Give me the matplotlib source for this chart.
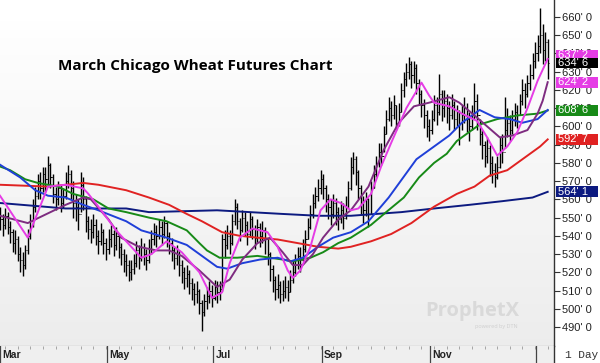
import numpy as np
import matplotlib
matplotlib.use('Agg')
import matplotlib.pyplot as plt
from matplotlib.patches import Rectangle
from matplotlib.transforms import blended_transform_factory
from matplotlib.ticker import FixedLocator, FuncFormatter

# ----- daily bars (cents/bu) ---------------------------------------------------------
highs = [556, 552, 555, 553, 548, 544, 543, 540, 534, 531,
         535, 544, 552, 560, 567, 574, 575, 578, 578, 584,
         580, 574, 567, 570, 568, 566, 575, 579, 576, 570,
         563, 560, 575, 572, 562, 551, 549, 552, 549, 543,
         547, 544, 539, 544, 546, 543, 545, 541, 536, 533,
         530, 527, 527, 530, 537, 535, 539, 536, 533, 538,
         543, 547, 546, 549, 548, 551, 548, 542, 539, 534,
         535, 532, 527, 523, 524, 521, 517, 514, 515, 511,
         505, 508, 512, 515, 513, 516, 515, 515, 541, 543,
         546, 543, 552, 560, 558, 550, 554, 553, 548, 553,
         551, 546, 549, 547, 548, 545, 538, 531, 524, 518,
         519, 515, 516, 518, 516, 521, 526, 530, 534, 534,
         538, 543, 550, 557, 563, 567, 571, 576, 574, 568,
         563, 560, 563, 561, 556, 559, 558, 562, 570, 583,
         586, 584, 576, 568, 562, 564, 561, 570, 579, 584,
         591, 591, 600, 609, 616, 614, 617, 612, 613, 624,
         630, 635, 638, 636, 636, 634, 626, 620, 615, 609,
         604, 609, 617, 616, 629, 620, 620, 618, 614, 618,
         614, 612, 609, 612, 616, 613, 608, 612, 624, 618,
         604, 598, 592, 594, 590, 584, 580, 584, 594, 596,
         616, 610, 606, 609, 613, 612, 618, 626, 624, 628,
         634, 640, 646, 650, 665, 656, 652, 648]
lows = [543, 540, 544, 541, 536, 531, 530, 526, 520, 518,
        522, 530, 538, 545, 553, 560, 560, 564, 564, 568,
        566, 558, 554, 557, 553, 555, 560, 566, 560, 550,
        548, 543, 553, 554, 542, 538, 536, 539, 535, 530,
        535, 530, 527, 530, 534, 529, 532, 528, 524, 520,
        518, 515, 516, 519, 523, 522, 526, 524, 521, 525,
        530, 535, 534, 538, 535, 539, 534, 530, 526, 522,
        524, 518, 514, 511, 512, 508, 505, 502, 503, 497,
        488, 496, 500, 503, 501, 505, 503, 505, 510, 528,
        533, 530, 535, 546, 544, 537, 542, 540, 535, 540,
        538, 533, 536, 534, 536, 530, 524, 515, 509, 505,
        506, 503, 504, 506, 504, 509, 514, 518, 522, 520,
        526, 531, 538, 544, 550, 555, 559, 563, 560, 553,
        549, 546, 550, 546, 543, 547, 544, 549, 555, 565,
        574, 568, 560, 552, 547, 551, 545, 552, 566, 572,
        578, 579, 586, 596, 603, 600, 604, 598, 600, 608,
        616, 622, 626, 621, 624, 618, 612, 605, 599, 594,
        592, 596, 603, 601, 606, 603, 605, 602, 598, 604,
        598, 600, 590, 598, 602, 597, 592, 598, 604, 598,
        590, 582, 578, 580, 573, 569, 567, 571, 577, 580,
        588, 594, 592, 596, 600, 599, 606, 612, 610, 616,
        620, 626, 632, 636, 640, 634, 636, 626]
closes = [549, 546, 551, 545, 542, 536, 538, 530, 527, 524,
          532, 540, 548, 556, 562, 570, 566, 574, 571, 579,
          572, 563, 560, 566, 558, 562, 570, 574, 566, 558,
          556, 552, 568, 560, 548, 544, 542, 546, 540, 537,
          542, 536, 533, 538, 541, 535, 540, 534, 530, 526,
          524, 520, 522, 525, 532, 528, 534, 530, 527, 533,
          538, 542, 540, 545, 541, 547, 540, 536, 532, 528,
          530, 524, 520, 517, 519, 514, 511, 508, 510, 503,
          498, 504, 507, 510, 506, 512, 509, 511, 538, 535,
          540, 536, 548, 556, 548, 543, 550, 546, 541, 549,
          544, 539, 545, 540, 543, 538, 530, 522, 516, 511,
          513, 508, 510, 512, 509, 516, 520, 524, 529, 527,
          533, 538, 545, 552, 558, 562, 566, 571, 566, 560,
          556, 552, 558, 553, 549, 554, 550, 556, 566, 578,
          582, 575, 566, 558, 554, 560, 552, 566, 574, 580,
          586, 584, 596, 604, 610, 606, 612, 602, 608, 620,
          626, 630, 634, 628, 632, 624, 618, 612, 606, 600,
          598, 604, 612, 608, 618, 610, 614, 610, 606, 612,
          604, 608, 602, 606, 610, 604, 600, 606, 614, 606,
          596, 590, 584, 588, 580, 576, 572, 578, 590, 586,
          598, 602, 598, 604, 608, 606, 614, 620, 618, 624,
          628, 636, 640, 644, 650, 642, 646, 634.75]

# ----- moving averages, sampled off the chart (bar index, value) -----------------------
ma_magenta_x = [0, 11, 19, 26, 33, 35, 39, 46, 52, 56, 60, 66, 72, 79, 84, 88, 91, 95,
                100, 106, 110, 114, 116, 119, 123, 127, 131, 135, 139, 142, 147, 151,
                155, 161, 167, 170, 172, 178, 183, 189, 193, 197, 201, 205, 209, 213, 217]
ma_magenta_y = [562, 539, 567, 568, 566, 563, 556, 543, 534, 528, 530, 537, 531, 520, 506,
                509, 525, 539, 544, 542, 534, 521, 517, 521, 534, 554, 560, 558, 554, 555,
                563, 578, 591, 610, 624, 617, 613, 611, 607, 603, 594, 584, 589, 597, 610,
                625, 637]
ma_purple_x = [0, 11, 17, 26, 33, 36, 43, 48, 55, 62, 67, 72, 79, 86, 91, 96, 102, 107,
               112, 116, 120, 124, 128, 134, 139, 146, 152, 158, 164, 170, 178, 182, 188,
               193, 198, 203, 209, 213, 215, 217]
ma_purple_y = [551, 547, 551, 557, 561, 560, 549, 539, 534, 532, 532, 529, 521, 512, 516,
               527, 536, 539, 531, 524, 524, 530, 539, 549, 554, 567, 587, 602, 611, 613,
               616, 613, 606, 600, 594, 595, 598, 607, 614, 624.25]
ma_blue_x = [0, 8, 14, 19, 26, 33, 39, 50, 56, 66, 74, 79, 86, 90, 96, 103, 110, 115, 120,
             126, 132, 139, 146, 154, 165, 172, 178, 183, 190, 196, 202, 207, 213, 217]
ma_blue_y = [579, 572, 565, 562, 561, 557, 554, 548, 543, 539, 535, 530, 523, 522, 525,
             527, 528, 526, 528, 534, 539, 542, 548, 561, 582, 589, 595, 602, 609, 605,
             604, 602, 604, 609]
ma_green_x = [0, 4, 10, 15, 23, 29, 37, 43, 50, 59, 66, 74, 79, 82, 87, 94, 102, 107, 112,
              116, 123, 128, 134, 139, 147, 153, 160, 166, 172, 177, 181, 190, 197, 205,
              213, 217]
ma_green_y = [578, 576, 571, 569, 567, 563, 560, 555, 553, 550, 548, 543, 536, 532, 528,
              528, 529, 528, 527, 526, 528, 531, 536, 539, 546, 553, 561, 572, 580, 585,
              592, 601, 604, 606, 607, 608.75]
ma_red_x = [0, 19, 33, 39, 50, 59, 67, 74, 80, 88, 95, 102, 110, 118, 126, 134, 139, 147,
            155, 163, 172, 181, 188, 194, 201, 207, 214, 217]
ma_red_y = [568, 567, 569, 568, 565, 561, 557, 552, 548, 542, 540, 539, 538, 536, 534, 533,
            534, 537, 541, 547, 556, 563, 567, 573, 576, 582, 589, 592.875]
ma_navy_x = [0, 26, 50, 59, 86, 112, 126, 139, 159, 172, 186, 199, 211, 217]
ma_navy_y = [558, 555, 555, 553, 554, 552, 551, 551, 553, 555, 557, 559, 561, 564.125]

# trading-day index where each month starts, and its label
month_start = [0, 43, 85, 128, 171, 213]
month_names = ['Mar', 'May', 'Jul', 'Sep', 'Nov', '']

# value tags on the price scale: (value, text, colour)
tags = [(639.0, "637' 2", '#e53ce5'),
        (634.75, "634' 6", '#000000'),
        (624.25, "624' 2", '#e53ce5'),
        (608.75, "608' 6", '#178a17'),
        (592.875, "592' 7", '#e02222'),
        (564.125, "564' 1", '#0c1a80')]

# ----- figure layout ------------------------------------------------------------------
W, H = 600., 363.
fig = plt.figure(figsize=(6, 3.63), dpi=100)
fig.patch.set_facecolor('white')
ax = fig.add_axes([0, 17/H, 554/W, 346/H])
axd = fig.add_axes([0, 0, 554/W, 17/H])

x0, x1 = 0.0, 219.5
ax.set_xlim(x0, x1)
ax.set_ylim(479.6, 669.3)

# soft grey gradient behind the bars
grad = np.linspace(1.0, 0.925, 100).reshape(-1, 1)
ax.imshow(grad, extent=[0, 1, 0, 1], transform=ax.transAxes, cmap='gray',
          vmin=0, vmax=1, aspect='auto', zorder=0, origin='upper')

for s in ['top', 'left']:
    ax.spines[s].set_visible(False)
ax.spines['right'].set_color('#333333')
ax.spines['bottom'].set_color('#555555')
ax.spines['right'].set_linewidth(1.0)

# ----- OHLC bars ----------------------------------------------------------------------
idx = np.arange(len(closes))
opens = np.r_[closes[0], closes[:-1]]
ax.vlines(idx, lows, highs, color='black', lw=1.0, zorder=3)
ax.hlines(opens, idx - 0.45, idx, color='black', lw=0.7, zorder=3)
ax.hlines(closes, idx, idx + 0.45, color='black', lw=0.7, zorder=3)

# ----- moving averages ----------------------------------------------------------------
ax.plot(ma_navy_x, ma_navy_y, color='#0c1a80', lw=1.4, zorder=4)
ax.plot(ma_red_x, ma_red_y, color='#e02222', lw=1.4, zorder=4)
ax.plot(ma_green_x, ma_green_y, color='#178a17', lw=1.4, zorder=4)
ax.plot(ma_blue_x, ma_blue_y, color='#1f3fd8', lw=1.4, zorder=4)
ax.plot(ma_purple_x, ma_purple_y, color='#7e2c80', lw=1.4, zorder=4)
ax.plot(ma_magenta_x, ma_magenta_y, color='#e53ce5', lw=1.4, zorder=4)

# ----- price scale on the right -------------------------------------------------------
ax.yaxis.tick_right()
ax.yaxis.set_major_locator(FixedLocator(np.arange(490, 661, 10)))
ax.yaxis.set_major_formatter(FuncFormatter(lambda v, p: "%d' 0" % v))
ax.tick_params(axis='y', length=4, width=0.8, color='#333333', pad=2,
               labelsize=8, labelcolor='#222222')
for lab in ax.get_yticklabels():
    lab.set_family('Liberation Sans')
ax.set_xticks([])

trans = blended_transform_factory(ax.transAxes, ax.transData)
for val, txt, col in tags:
    ax.add_patch(Rectangle((1.003, val - 3.0), 0.077, 6.0, transform=trans,
                           facecolor=col, edgecolor='none', clip_on=False, zorder=6))
    ax.text(1.008, val, txt, transform=trans, color='white', fontsize=8,
            family='Liberation Sans', va='center', ha='left', zorder=7, clip_on=False)

# ----- title and watermark ------------------------------------------------------------
ax.text(0.105, 0.81, 'March Chicago Wheat Futures Chart', transform=ax.transAxes,
        fontsize=11, fontweight='bold', family='Open Sans', color='black',
        va='center', ha='left', zorder=8)
ax.text(0.853, 0.10, 'ProphetX', transform=ax.transAxes, fontsize=14.5,
        fontweight='bold', family='Open Sans', color='#d9d9d9', ha='center',
        va='center', zorder=1)
ax.text(0.935, 0.055, 'powered by DTN', transform=ax.transAxes, fontsize=4,
        family='Open Sans', color='#cfcfcf', ha='right', va='center', zorder=1)

# ----- date strip ---------------------------------------------------------------------
axd.set_xlim(x0, x1)
axd.set_ylim(0, 1)
axd.set_facecolor('#efefef')
for s in axd.spines.values():
    s.set_visible(False)
axd.set_yticks([])
axd.set_xticks(np.arange(2, 218, 5), minor=True)
axd.set_xticks([])
axd.tick_params(axis='x', which='minor', direction='in', top=True, bottom=False,
                length=2, color='#999999')
for m, name in zip(month_start, month_names):
    xs = max(m - 0.5, 0.0)
    axd.axvline(xs, color='#444444', lw=0.9)
    axd.text(xs + 0.9, 0.45, name, fontsize=7.5, fontweight='bold', color='#222222',
             family='Liberation Sans', va='center', ha='left')

fig.text(565/W, 8/H, '1 Day', fontsize=8, family='Liberation Mono', color='#333333',
         va='center', ha='left')
fig.add_artist(plt.Line2D([554/W, 554/W], [0, 17/H], color='#333333', lw=1.0))

fig.savefig('out.png', dpi=100)
